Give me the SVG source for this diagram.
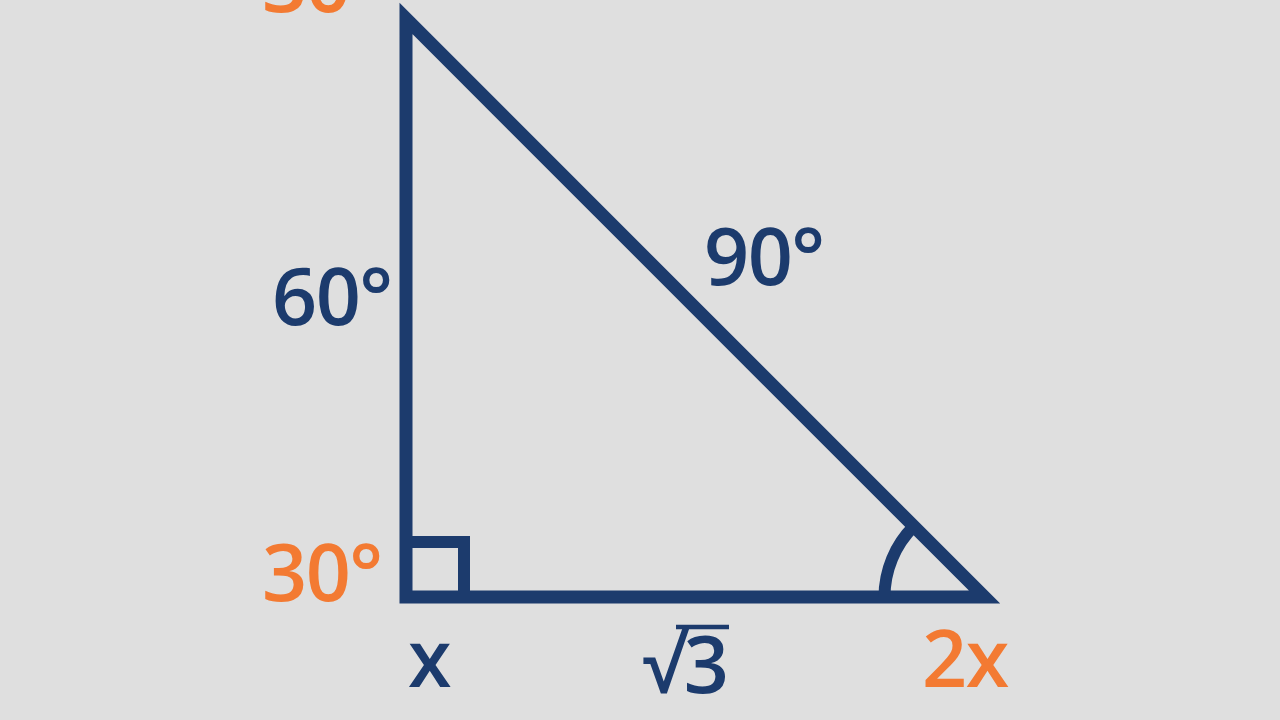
<svg xmlns="http://www.w3.org/2000/svg" width="1280" height="720" viewBox="0 0 1280 720">
<style>
.edge{fill:none;stroke:#1c3b6d;stroke-width:13;stroke-linejoin:miter;stroke-miterlimit:10}
.mark{fill:none;stroke:#1c3b6d;stroke-width:12}
.lbl{font-family:"Open Sans","Noto Sans",sans-serif;font-weight:600;font-size:79px;letter-spacing:-1.5px}
.navy{fill:#1c3b6d}
.orange{fill:#f37a32}
</style>
<rect width="1280" height="720" fill="#dfdfdf"/>
<g id="triangle">
<polygon class="edge" points="406,18.5 406,597 984.5,597"/>
</g>
<g id="connectors">
<path class="mark" d="M406,542 H464 V597"/>
<path class="mark" d="M884.5,597 A100,100 0 0 1 913.8,526.3"/>
</g>
<g id="labels">
<text class="lbl orange" x="262" y="12">30°</text>
<text class="lbl navy" x="272" y="325">60°</text>
<text class="lbl navy" x="704" y="285">90°</text>
<text class="lbl orange" x="262" y="601">30°</text>
<text class="lbl navy" x="408" y="687">x</text>
<text class="lbl navy" x="642" y="693">√3</text>
<line x1="676" y1="627" x2="729" y2="627" stroke="#1c3b6d" stroke-width="4.5"/>
<text class="lbl orange" x="922" y="687">2x</text>
</g>
</svg>
